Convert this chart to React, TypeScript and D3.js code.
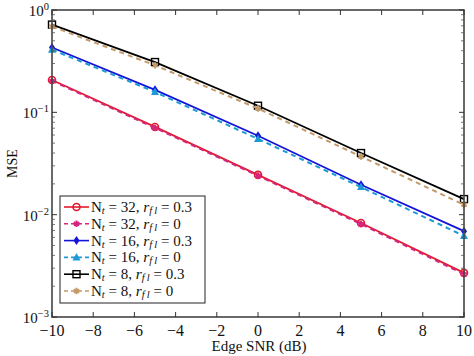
import React from "react";
import * as d3 from "d3";

const snr = [-10, -5, 0, 5, 10];
const nt32r03 = [0.207, 0.072, 0.0245, 0.0083, 0.0027];
const nt32r0 = [0.203, 0.0705, 0.024, 0.0081, 0.00262];
const nt16r03 = [0.43, 0.166, 0.059, 0.0196, 0.0069];
const nt16r0 = [0.41, 0.158, 0.055, 0.0186, 0.0062];
const nt8r03 = [0.72, 0.31, 0.116, 0.040, 0.0142];
const nt8r0 = [0.69, 0.288, 0.109, 0.037, 0.0125];

const xTicks = [-10, -8, -6, -4, -2, 0, 2, 4, 6, 8, 10];
const yDecades = [-3, -2, -1, 0];

const seriesNt = ["32", "32", "16", "16", "8", "8"];
const seriesR = ["0.3", "0", "0.3", "0", "0.3", "0"];

type S = { vals: number[]; color: string; dash: boolean; marker: string };
const series: S[] = [
  { vals: nt32r03, color: "#e3192e", dash: false, marker: "circle" },
  { vals: nt32r0, color: "#d4267e", dash: true, marker: "star" },
  { vals: nt16r03, color: "#1414d8", dash: false, marker: "diamond" },
  { vals: nt16r0, color: "#1c9ad6", dash: true, marker: "triangle" },
  { vals: nt8r03, color: "#000000", dash: false, marker: "square" },
  { vals: nt8r0, color: "#c39a6a", dash: true, marker: "star" },
];

const L = 52, R = 464, T = 10, B = 317;

function Marker({ type, x, y, color }: { type: string; x: number; y: number; color: string }) {
  if (type === "circle") return <circle cx={x} cy={y} r={3.5} fill="none" stroke={color} strokeWidth={1.6} />;
  if (type === "square") return <rect x={x - 3.5} y={y - 3.5} width={7} height={7} fill="none" stroke={color} strokeWidth={1.4} />;
  if (type === "diamond") return <path d={`M${x},${y - 4.5}L${x + 3},${y}L${x},${y + 4.5}L${x - 3},${y}Z`} fill={color} />;
  if (type === "triangle") return <path d={`M${x},${y - 4.5}L${x + 4},${y + 3}L${x - 4},${y + 3}Z`} fill={color} />;
  const sym = d3.symbol(d3.symbolAsterisk, 28)();
  return <path d={sym as string} transform={`translate(${x},${y})`} fill="none" stroke={color} strokeWidth={2} />;
}

export default function App() {
  const x = d3.scaleLinear().domain([-10, 10]).range([L, R]);
  const y = d3.scaleLog().domain([1e-3, 1]).range([B, T]);
  const line = d3.line<[number, number]>().x((d) => x(d[0])).y((d) => y(d[1]));
  const minor: number[] = [];
  for (const k of [-3, -2, -1]) for (let m = 2; m <= 9; m++) minor.push(m * Math.pow(10, k));
  const font = "'Liberation Serif', 'DejaVu Serif', serif";
  const legX = 60, legY = 196, legW = 145, legH = 107, rowH = 16.8;

  return (
    <svg width={474} height={356} style={{ position: "absolute", left: 0, top: 0 }} fontFamily={font}>
      <rect width={474} height={356} fill="#fff" />
      {series.map((s, i) => (
        <g key={i}>
          <path
            d={line(snr.map((v, j) => [v, s.vals[j]] as [number, number])) as string}
            fill="none"
            stroke={s.color}
            strokeWidth={s.dash ? 2 : 1.8}
            strokeDasharray={s.dash ? "5,4" : undefined}
          />
          {snr.map((v, j) => (
            <Marker key={j} type={s.marker} x={x(v)} y={y(s.vals[j])} color={s.color} />
          ))}
        </g>
      ))}
      <rect x={L} y={T} width={R - L} height={B - T} fill="none" stroke="#444" strokeWidth={1.6} />
      {xTicks.map((t) => (
        <g key={t}>
          <line x1={x(t)} x2={x(t)} y1={B} y2={B - 5} stroke="#333" />
          <line x1={x(t)} x2={x(t)} y1={T} y2={T + 5} stroke="#333" />
          <text x={x(t)} y={B + 19} textAnchor="middle" fontSize={16} fill="#111">
            {t < 0 ? "\u2212" + Math.abs(t) : t}
          </text>
        </g>
      ))}
      {yDecades.map((k) => (
        <g key={k}>
          <line x1={L} x2={L + 5} y1={y(Math.pow(10, k))} y2={y(Math.pow(10, k))} stroke="#333" />
          <line x1={R} x2={R - 5} y1={y(Math.pow(10, k))} y2={y(Math.pow(10, k))} stroke="#333" />
          <text x={L - 3} y={y(Math.pow(10, k)) + 6} textAnchor="end" fontSize={15} fill="#111">
            10
            <tspan dy={-6} fontSize={10.5}>{k < 0 ? "\u2212" + Math.abs(k) : k}</tspan>
          </text>
        </g>
      ))}
      {minor.map((v, i) => (
        <g key={i}>
          <line x1={L} x2={L + 3} y1={y(v)} y2={y(v)} stroke="#555" strokeWidth={0.8} />
          <line x1={R} x2={R - 3} y1={y(v)} y2={y(v)} stroke="#555" strokeWidth={0.8} />
        </g>
      ))}
      <text x={(L + R) / 2 + 1} y={351} textAnchor="middle" fontSize={15} fill="#111">Edge SNR (dB)</text>
      <text transform={`translate(17,${(T + B) / 2}) rotate(-90)`} textAnchor="middle" fontSize={14} fill="#111">MSE</text>
      <g>
        <rect x={legX} y={legY} width={legW} height={legH} fill="#fff" stroke="#222" strokeWidth={1} />
        {series.map((s, i) => {
          const cy = legY + 11 + i * rowH;
          return (
            <g key={i}>
              <line x1={legX + 4} x2={legX + 29} y1={cy} y2={cy} stroke={s.color} strokeWidth={1.6} strokeDasharray={s.dash ? "4,3" : undefined} />
              <Marker type={s.marker} x={legX + 16.5} y={cy} color={s.color} />
              <text x={legX + 31} y={cy + 5} fontSize={15} fill="#111">
                N<tspan fontStyle="italic" fontSize={10.5} dy={2}>t</tspan>
                <tspan dy={-2}>{` = ${seriesNt[i]}, `}</tspan>
                <tspan fontStyle="italic" fontSize={15.5}>r</tspan>
                <tspan fontStyle="italic" fontSize={10.5} dy={2}>{"f\u2009l"}</tspan>
                <tspan dy={-2}>{` = ${seriesR[i]}`}</tspan>
              </text>
            </g>
          );
        })}
      </g>
    </svg>
  );
}
